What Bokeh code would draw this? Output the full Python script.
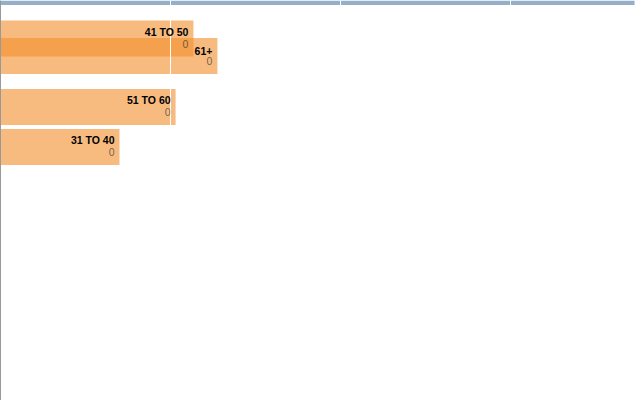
from bokeh.plotting import figure
from bokeh.models import ColumnDataSource, Range1d, FixedTicker
from bokeh.core.properties import value
from bokeh.embed import file_html
from bokeh.resources import INLINE

# ---- data (bar chart race frame) ----
categories = ["", "41 TO 50", "61+", "51 TO 60", "31 TO 40"]
values = [373.0, 113.5, 127.6, 103.0, 70.0]
positions = [0.0, 1.2875, 1.725, 3.0, 4.0]
value_labels = ["", "0", "0", "0", "0"]
colors = ["#4e79a7", "#f28e2b", "#f28e2b", "#f28e2b", "#f28e2b"]
x_ticks = [100, 200, 300]

src = ColumnDataSource(dict(cat=categories, val=values, pos=positions,
                            vlab=value_labels, color=colors))

W, H = 640, 400
p = figure(width=W, height=H, output_backend="svg", toolbar_location=None,
           x_range=Range1d(0, 376.5), y_range=Range1d(10.3375, 0.3375),
           min_border=0, min_border_left=0, min_border_right=0,
           min_border_top=0, min_border_bottom=0)
p.outline_line_color = None
p.background_fill_color = "white"
p.border_fill_color = "white"

bars = p.hbar(y="pos", right="val", left=0, height=0.9, source=src,
              fill_color="color", fill_alpha=0.6, line_color=None)
bars.level = "underlay"

t1 = p.text(x="val", y="pos", text="cat", source=src, x_offset=-5, y_offset=-1,
            text_align="right", text_baseline="bottom",
            text_font=value("Liberation Sans"), text_font_style="bold",
            text_font_size="10.5px", text_color="black")
t2 = p.text(x="val", y="pos", text="vlab", source=src, x_offset=-5, y_offset=1,
            text_align="right", text_baseline="top",
            text_font=value("Liberation Sans"),
            text_font_size="10.5px", text_color="#333333", text_alpha=0.7)
t1.level = "annotation"
t2.level = "annotation"

p.xaxis.visible = False
p.xaxis.ticker = FixedTicker(ticks=x_ticks)
p.xgrid.ticker = FixedTicker(ticks=x_ticks)
p.xgrid.grid_line_color = "white"
p.xgrid.grid_line_width = 1
p.xgrid.level = "guide"
p.ygrid.visible = False

ya = p.yaxis[0]
ya.ticker = FixedTicker(ticks=[])
ya.major_label_standoff = 0
ya.major_tick_in = 0
ya.major_tick_out = 0
ya.minor_tick_in = 0
ya.minor_tick_out = 0
ya.axis_line_color = "#999999"
ya.axis_line_width = 1

open("out.html", "w").write(file_html(p, INLINE))
